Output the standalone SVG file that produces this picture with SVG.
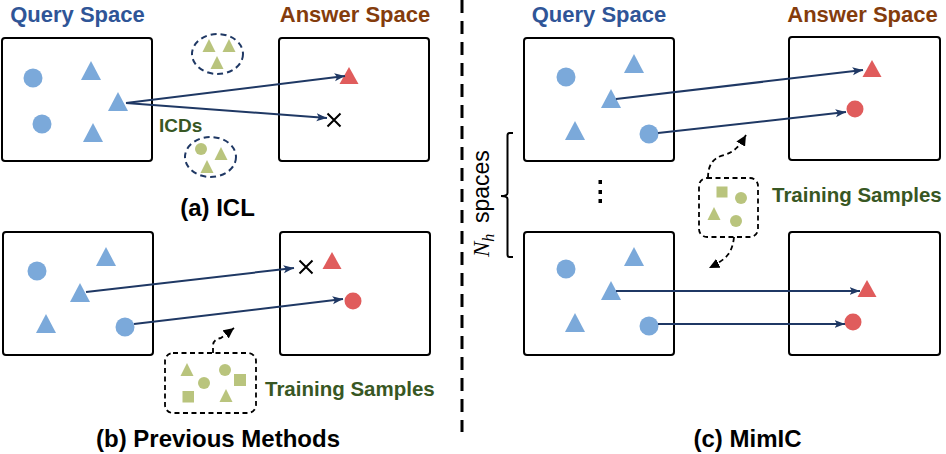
<svg xmlns="http://www.w3.org/2000/svg" xmlns:xlink="http://www.w3.org/1999/xlink" width="946" height="454" viewBox="0 0 946 454">
<style>
  .box{fill:#fff;stroke:#000;stroke-width:2}
  .qs{font-family:"Liberation Sans",Arial,sans-serif;font-weight:bold;font-size:22px;fill:#2F5597}
  .as{font-family:"Liberation Sans",Arial,sans-serif;font-weight:bold;font-size:22px;fill:#843C0C}
  .cap{font-family:"Liberation Sans",Arial,sans-serif;font-weight:bold;font-size:24px;fill:#000}
  .grn{font-family:"Liberation Sans",Arial,sans-serif;font-weight:bold;font-size:20.5px;fill:#385723}
  .b{fill:#7BA9DA}
  .r{fill:#E05C5C}
  .g{fill:#B9C47D}
  .arr{fill:none;stroke:#1F3864;stroke-width:2;marker-end:url(#ah)}
  .dash{fill:none;stroke:#000;stroke-width:1.8;stroke-dasharray:5 3.5}
  .darr{fill:none;stroke:#000;stroke-width:1.8;stroke-dasharray:5 3.5;marker-end:url(#bh)}
  .ell{fill:none;stroke:#1F3864;stroke-width:2;stroke-dasharray:6 4}
  .x{stroke:#000;stroke-width:2}
</style>
<defs>
  <marker id="ah" markerUnits="userSpaceOnUse" markerWidth="11" markerHeight="9" refX="10.5" refY="4.5" orient="auto">
    <path d="M0,0.5 L10.5,4.5 L0,8.5 L2.5,4.5 Z" fill="#1F3864"/>
  </marker>
  <marker id="bh" markerUnits="userSpaceOnUse" markerWidth="11" markerHeight="10" refX="10.5" refY="5" orient="auto">
    <path d="M0,0 L10.5,5 L0,10 Z" fill="#000"/>
  </marker>
  <path id="triB" d="M0,0 L10,19 L-10,19 Z"/>
  <path id="triR" d="M0,0 L9.5,17 L-9.5,17 Z"/>
  <path id="triG" d="M0,0 L6.5,13 L-6.5,13 Z"/>
</defs>

<!-- divider -->
<line x1="462" y1="0" x2="462" y2="432" stroke="#000" stroke-width="3" stroke-dasharray="13 8"/>

<!-- headers -->
<text class="qs" x="77.5" y="22" text-anchor="middle">Query Space</text>
<text class="as" x="355" y="22" text-anchor="middle">Answer Space</text>
<text class="qs" x="599" y="22" text-anchor="middle">Query Space</text>
<text class="as" x="862.5" y="22" text-anchor="middle">Answer Space</text>

<!-- (a) ICL -->
<g id="a-query">
  <rect class="box" x="2" y="38" width="150" height="123" rx="3"/>
  <circle class="b" cx="33" cy="78" r="9.5"/>
  <circle class="b" cx="42" cy="124" r="9.5"/>
  <use href="#triB" class="b" x="91" y="61"/>
  <use href="#triB" class="b" x="118" y="92"/>
  <use href="#triB" class="b" x="93" y="123"/>
</g>
<g id="a-answer">
  <rect class="box" x="279" y="38" width="150" height="123" rx="3"/>
  <use href="#triR" class="r" x="349" y="67"/>
  <path class="x" d="M327.5,113.5 L340.5,126.5 M327.5,126.5 L340.5,113.5"/>
</g>
<g id="a-icd1">
  <ellipse class="ell" cx="217.5" cy="54" rx="25.5" ry="20"/>
  <use href="#triG" class="g" x="209" y="39"/>
  <use href="#triG" class="g" x="229" y="39"/>
  <use href="#triG" class="g" x="217" y="56"/>
</g>
<g id="a-icd2">
  <ellipse class="ell" cx="210.5" cy="157" rx="25.5" ry="20"/>
  <circle class="g" cx="201" cy="149" r="6"/>
  <use href="#triG" class="g" x="221" y="147"/>
  <use href="#triG" class="g" x="207" y="160"/>
</g>
<text class="grn" x="159" y="132" style="font-size:19px">ICDs</text>
<text class="cap" x="217.5" y="216" text-anchor="middle">(a) ICL</text>

<!-- (b) Previous Methods -->
<g id="b-query">
  <rect class="box" x="3" y="232" width="150" height="123" rx="3"/>
  <circle class="b" cx="37" cy="271" r="9.5"/>
  <circle class="b" cx="125" cy="327" r="9.5"/>
  <use href="#triB" class="b" x="106" y="247"/>
  <use href="#triB" class="b" x="80" y="283"/>
  <use href="#triB" class="b" x="46" y="314"/>
</g>
<g id="b-answer">
  <rect class="box" x="280" y="232" width="150" height="123" rx="3"/>
  <path class="x" d="M299.5,260.5 L312.5,273.5 M299.5,273.5 L312.5,260.5"/>
  <use href="#triR" class="r" x="332" y="252"/>
  <circle class="r" cx="353" cy="301" r="8.5"/>
</g>
<g id="b-training">
  <rect class="dash" x="165" y="353" width="91" height="60" rx="8"/>
  <use href="#triG" class="g" x="187" y="363"/>
  <circle class="g" cx="204" cy="383" r="6"/>
  <circle class="g" cx="225" cy="370" r="6"/>
  <rect class="g" x="234" y="374" width="12" height="12"/>
  <rect class="g" x="182.5" y="391" width="11.5" height="11.5"/>
  <use href="#triG" class="g" x="226" y="389"/>
</g>
<text class="grn" x="265" y="396">Training Samples</text>
<text class="cap" x="218" y="447" text-anchor="middle">(b) Previous Methods</text>

<!-- (c) MimIC -->
<g id="c-query-top">
  <rect class="box" x="524" y="38" width="150" height="123" rx="3"/>
  <circle class="b" cx="566" cy="77" r="9.5"/>
  <circle class="b" cx="649" cy="134" r="9.5"/>
  <use href="#triB" class="b" x="634" y="54"/>
  <use href="#triB" class="b" x="611" y="89"/>
  <use href="#triB" class="b" x="575" y="121"/>
</g>
<g id="c-answer-top">
  <rect class="box" x="789" y="37" width="151" height="123" rx="3"/>
  <use href="#triR" class="r" x="872" y="60"/>
  <circle class="r" cx="855" cy="109" r="8.5"/>
</g>
<g id="c-query-bottom">
  <rect class="box" x="524" y="232" width="150" height="123" rx="3"/>
  <circle class="b" cx="566" cy="269" r="9.5"/>
  <circle class="b" cx="649" cy="326" r="9.5"/>
  <use href="#triB" class="b" x="634" y="247"/>
  <use href="#triB" class="b" x="611" y="281"/>
  <use href="#triB" class="b" x="575" y="313"/>
</g>
<g id="c-answer-bottom">
  <rect class="box" x="789" y="232" width="151" height="123" rx="3"/>
  <use href="#triR" class="r" x="867" y="280"/>
  <circle class="r" cx="853" cy="322" r="8.5"/>
</g>
<g id="c-dots">
  <rect x="598.5" y="180" width="3.5" height="4" fill="#000"/>
  <rect x="598.5" y="190" width="3.5" height="4" fill="#000"/>
  <rect x="598.5" y="199" width="3.5" height="4" fill="#000"/>
</g>
<g id="c-bracket">
  <path d="M513,133 L509.5,133 Q507.5,133 507.5,135.5 L507.5,193 Q507.5,196 501,196 Q507.5,196 507.5,199 L507.5,254.5 Q507.5,257 509.5,257 L513,257" fill="none" stroke="#000" stroke-width="2"/>
  <text transform="translate(489,257) rotate(-90)" style="font-family:'Liberation Sans',Arial,sans-serif;font-size:23px;fill:#000"><tspan style="font-family:'Liberation Serif','Times New Roman',serif;font-style:italic;font-size:23px">N</tspan><tspan dy="5" style="font-family:'Liberation Serif','Times New Roman',serif;font-style:italic;font-size:16px">h</tspan><tspan x="34" dy="-5">spaces</tspan></text>
</g>
<g id="c-training">
  <rect class="dash" x="699" y="178" width="59" height="59" rx="8"/>
  <rect class="g" x="716.5" y="186.5" width="11" height="11"/>
  <circle class="g" cx="741" cy="198" r="6"/>
  <use href="#triG" class="g" x="714" y="207"/>
  <circle class="g" cx="736" cy="221" r="6"/>
</g>
<text class="grn" x="772" y="202">Training Samples</text>
<text class="cap" x="747.5" y="447" text-anchor="middle">(c) MimIC</text>

<!-- connectors -->
<g id="connectors">
  <path class="arr" d="M126,103 L345,76"/>
  <path class="arr" d="M126,103 L327,118"/>
  <path class="arr" d="M86,292 L294,268"/>
  <path class="arr" d="M134,324 L343,299"/>
  <path class="arr" d="M616,99 L863,70"/>
  <path class="arr" d="M658,133 L846,112"/>
  <path class="arr" d="M616,291 L860,291"/>
  <path class="arr" d="M658,324 L845,324"/>
  <path class="darr" d="M213,353 L213,346 C213,341 216,339 221,338 L234,328"/>
  <path class="darr" d="M708,178 C708,166 712,158 724,155 C734,152 739,147 746,135"/>
  <path class="darr" d="M734,237 C733,247 730,253 725,258 C720,262 715,265 709,268"/>
</g>
</svg>
